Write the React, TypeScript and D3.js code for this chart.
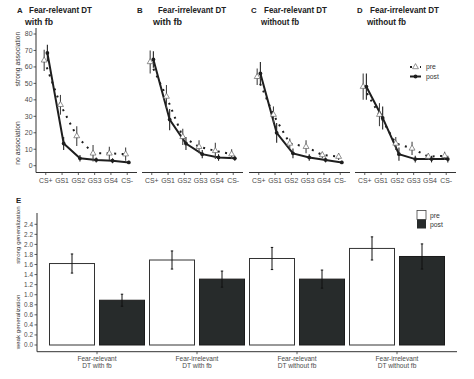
import React from "react";
import * as d3 from "d3";

const categories = ["CS+", "GS1", "GS2", "GS3", "GS4", "CS-"];
const panelLetters = ["A", "B", "C", "D"];
const panelTitle1 = ["Fear-relevant DT", "Fear-irrelevant DT", "Fear-relevant DT", "Fear-irrelevant DT"];
const panelTitle2 = ["with fb", "with fb", "without fb", "without fb"];

const preA = [64, 37, 18, 7.5, 7.5, 7];
const preErrA = [6.5, 6, 6, 5, 4, 4];
const postA = [68.5, 13.5, 4.5, 3.5, 3, 2];
const postErrA = [5, 4, 2, 1.5, 1.5, 1];

const preB = [63, 42, 17.5, 11.5, 9, 7];
const preErrB = [7, 7, 5, 4, 5, 3];
const postB = [64.5, 28, 13.5, 7, 5, 4.5];
const postErrB = [5, 6.5, 4, 2.5, 2, 1.5];

const preC = [54, 31, 13.5, 11.5, 6.5, 5.5];
const preErrC = [5, 5, 3, 4, 2, 2];
const postC = [56, 20, 7.5, 5, 3.5, 2];
const postErrC = [7, 6, 3, 2, 1.5, 1];

const preD = [48, 31, 13.5, 10.5, 5.5, 6];
const preErrD = [8, 7, 4, 4, 2, 2.5];
const postD = [48, 29, 7, 4, 4, 4];
const postErrD = [8, 7, 4, 2, 2, 2];

const yTicksTop = [0, 10, 20, 30, 40, 50, 60, 70, 80];

const groups = ["Fear-relevant|DT with fb", "Fear-irrelevant|DT with fb", "Fear-relevant|DT without fb", "Fear-irrelevant|DT without fb"];
const barPre = [1.62, 1.69, 1.72, 1.92];
const barPreErr = [0.19, 0.18, 0.22, 0.23];
const barPost = [0.89, 1.31, 1.31, 1.76];
const barPostErr = [0.12, 0.16, 0.18, 0.25];
const yTicksBottom = [0, 0.2, 0.4, 0.6, 0.8, 1.0, 1.2, 1.4, 1.6, 1.8, 2.0, 2.2, 2.4];

const FONT = "Liberation Sans, Arial, sans-serif";
const INK = "#1e1e1e";
const TICK = "#4a4a4a";

const panels = [
  { pre: preA, preErr: preErrA, post: postA, postErr: postErrA },
  { pre: preB, preErr: preErrB, post: postB, postErr: postErrB },
  { pre: preC, preErr: preErrC, post: postC, postErr: postErrC },
  { pre: preD, preErr: preErrD, post: postD, postErr: postErrD },
];

const panelLeft = [36, 142, 249, 355];
const panelWidth = 101;
// title layout: [letterX, line1X, line1W, line2X, line2W]
const titleLayout = [
  [17, 29, 63, 25, 28],
  [137, 158, 68, 153, 29],
  [251, 264, 63, 261, 38],
  [357, 370, 69, 367, 39],
];

function Panel({ idx }: { idx: number }) {
  const p = panels[idx];
  const left = panelLeft[idx];
  const x = d3.scalePoint<string>().domain(categories).range([left, left + panelWidth]).padding(0.6);
  const y = d3.scaleLinear().domain([0, 80]).range([165.7, 34]);
  const axisY = 172.5;
  const dodge = 1.6;
  const line = d3.line<number>().x((_, i) => x(categories[i])! + dodge).y((d) => y(d));
  const linePre = d3.line<number>().x((_, i) => x(categories[i])! - dodge).y((d) => y(d));
  const tri = d3.symbol().type(d3.symbolTriangle).size(15)();
  const tl = titleLayout[idx];
  return (
    <g>
      <line x1={left} x2={left + panelWidth} y1={axisY} y2={axisY} stroke="#333" strokeWidth={1} />
      {categories.map((c) => (
        <g key={c}>
          <line x1={x(c)} x2={x(c)} y1={axisY} y2={axisY + 2.5} stroke="#333" strokeWidth={0.8} />
          <text x={x(c)} y={axisY + 10.2} textAnchor="middle" fontSize={6.9} fill={TICK} fontFamily={FONT}>{c}</text>
        </g>
      ))}
      {idx === 0 && (
        <g>
          <line x1={left} x2={left} y1={28} y2={axisY} stroke="#333" strokeWidth={1} />
          {yTicksTop.map((t) => (
            <g key={t}>
              <line x1={left - 2.5} x2={left} y1={y(t)} y2={y(t)} stroke="#333" strokeWidth={0.8} />
              <text x={left - 3.5} y={y(t) + 2.4} textAnchor="end" fontSize={6.9} fill={TICK} fontFamily={FONT}>{t}</text>
            </g>
          ))}
          <text transform={`translate(20,59) rotate(-90)`} textAnchor="middle" fontSize={6.8} fill="#333" fontFamily={FONT}>strong association</text>
          <text transform={`translate(20,143) rotate(-90)`} textAnchor="middle" fontSize={6.8} fill="#333" fontFamily={FONT}>no association</text>
        </g>
      )}
      <path d={linePre(p.pre)!} fill="none" stroke={INK} strokeWidth={2} strokeDasharray="2,5.5" />
      <path d={line(p.post)!} fill="none" stroke={INK} strokeWidth={2} />
      {categories.map((c, i) => (
        <g key={"e" + c}>
          <line x1={x(c)! - dodge} x2={x(c)! - dodge} y1={y(p.pre[i] - p.preErr[i])} y2={y(p.pre[i] + p.preErr[i])} stroke="#444" strokeWidth={1.1} />
          <line x1={x(c)! + dodge} x2={x(c)! + dodge} y1={y(p.post[i] - p.postErr[i])} y2={y(p.post[i] + p.postErr[i])} stroke="#222" strokeWidth={1.1} />
          <path d={tri!} transform={`translate(${x(c)! - dodge},${y(p.pre[i])})`} fill="#fff" stroke="#666" strokeWidth={0.7} />
          <circle cx={x(c)! + dodge} cy={y(p.post[i])} r={1.9} fill={INK} />
        </g>
      ))}
      <text x={tl[0]} y={13} fontSize={7.8} fontWeight="bold" fill="#222" fontFamily={FONT}>{panelLetters[idx]}</text>
      <text x={tl[1]} y={13.3} fontSize={9.8} fontWeight="bold" fill="#222" fontFamily={FONT} textLength={tl[2]} lengthAdjust="spacingAndGlyphs">{panelTitle1[idx]}</text>
      <text x={tl[3]} y={24.8} fontSize={9.8} fontWeight="bold" fill="#222" fontFamily={FONT} textLength={tl[4]} lengthAdjust="spacingAndGlyphs">{panelTitle2[idx]}</text>
    </g>
  );
}

function BottomPanel() {
  const x = d3.scaleBand<string>().domain(groups).range([37, 457]).paddingOuter(0.1).paddingInner(0);
  const y = d3.scaleLinear().domain([0, 2.4]).range([345, 224.3]);
  const axisY = 351.7;
  const half = 25;
  const bw = 45;
  const cx = (g: string) => x(g)! + x.bandwidth() / 2;
  return (
    <g>
      <text x={16} y={203} fontSize={7.8} fontWeight="bold" fill="#222" fontFamily={FONT}>E</text>
      <line x1={37} x2={37} y1={213} y2={axisY} stroke="#333" strokeWidth={1} />
      <line x1={37} x2={457} y1={axisY} y2={axisY} stroke="#333" strokeWidth={1} />
      {yTicksBottom.map((t) => (
        <g key={t}>
          <line x1={34.5} x2={37} y1={y(t)} y2={y(t)} stroke="#333" strokeWidth={0.8} />
          <text x={33} y={y(t) + 2.3} textAnchor="end" fontSize={6.4} fill={TICK} fontFamily={FONT}>{t.toFixed(1)}</text>
        </g>
      ))}
      <text transform={`translate(20,235) rotate(-90)`} textAnchor="middle" fontSize={6.2} fill="#333" fontFamily={FONT}>strong generalization</text>
      <text transform={`translate(20,322) rotate(-90)`} textAnchor="middle" fontSize={6.2} fill="#333" fontFamily={FONT}>weak generalization</text>
      {groups.map((g, i) => {
        const c = cx(g);
        const [l1, l2] = g.split("|");
        return (
          <g key={g}>
            <rect x={c - half - bw / 2} y={y(barPre[i])} width={bw} height={y(0) - y(barPre[i])} fill="#fff" stroke="#333" strokeWidth={1} />
            <rect x={c + half - bw / 2} y={y(barPost[i])} width={bw} height={y(0) - y(barPost[i])} fill="#272b2b" stroke="#1a1a1a" strokeWidth={1} />
            {[
              [c - half, barPre[i], barPreErr[i]],
              [c + half, barPost[i], barPostErr[i]],
            ].map(([ex, v, e], k) => (
              <g key={k}>
                <line x1={ex} x2={ex} y1={y(v - e)} y2={y(v + e)} stroke="#111" strokeWidth={1} />
                <line x1={ex - 1.2} x2={ex + 1.2} y1={y(v - e)} y2={y(v - e)} stroke="#111" strokeWidth={1} />
                <line x1={ex - 1.2} x2={ex + 1.2} y1={y(v + e)} y2={y(v + e)} stroke="#111" strokeWidth={1} />
              </g>
            ))}
            <line x1={c} x2={c} y1={axisY} y2={axisY + 2.5} stroke="#333" strokeWidth={0.8} />
            <text x={c} y={360.5} textAnchor="middle" fontSize={6.6} fill={TICK} fontFamily={FONT}>{l1}</text>
            <text x={c} y={368} textAnchor="middle" fontSize={6.6} fill={TICK} fontFamily={FONT}>{l2}</text>
          </g>
        );
      })}
      <rect x={417} y={210.5} width={9} height={9} fill="#fff" stroke="#444" strokeWidth={0.8} />
      <rect x={417} y={219.5} width={9} height={9} fill="#272b2b" />
      <text x={430} y={218} fontSize={6.8} fill="#333" fontFamily={FONT}>pre</text>
      <text x={430} y={227} fontSize={6.8} fill="#333" fontFamily={FONT}>post</text>
    </g>
  );
}

function Legend() {
  const tri = d3.symbol().type(d3.symbolTriangle).size(15)();
  return (
    <g>
      <line x1={410} x2={421} y1={67} y2={67} stroke={INK} strokeWidth={2} strokeDasharray="2,3" />
      <path d={tri!} transform="translate(415.5,67)" fill="#fff" stroke="#666" strokeWidth={0.7} />
      <text x={426} y={69.3} fontSize={6.8} fill="#333" fontFamily={FONT}>pre</text>
      <line x1={410} x2={421} y1={76.5} y2={76.5} stroke={INK} strokeWidth={2} />
      <circle cx={415.5} cy={76.5} r={1.9} fill={INK} />
      <text x={426} y={78.8} fontSize={6.8} fill="#333" fontFamily={FONT}>post</text>
    </g>
  );
}

export default function App() {
  return (
    <svg width={474} height={379} style={{ position: "absolute", left: 0, top: 0, background: "#fff" }}>
      <rect width={474} height={379} fill="#fff" />
      {[0, 1, 2, 3].map((i) => (
        <Panel key={i} idx={i} />
      ))}
      <Legend />
      <BottomPanel />
    </svg>
  );
}
